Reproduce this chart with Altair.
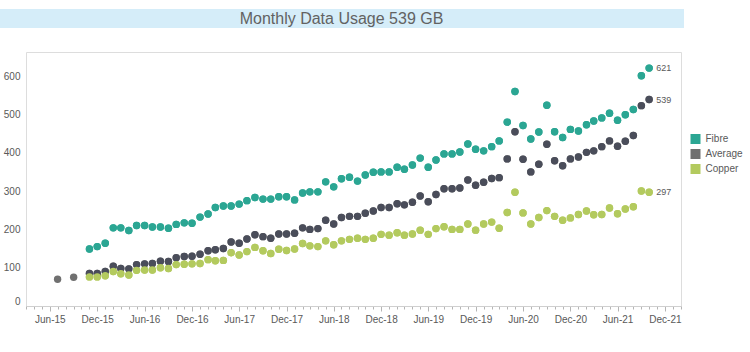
import altair as alt
import pandas as pd

# ---- data -------------------------------------------------------------
months = pd.date_range("2015-11-01", "2021-10-01", freq="MS").strftime("%Y-%m-%d").tolist()

fibre = [149, 155,
         164, 204, 204, 197, 210, 210, 206, 206, 203, 213, 217, 216,
         232, 240, 257, 261, 261, 266, 275, 283, 279, 279, 285, 285,
         277, 295, 298, 298, 324, 311, 332, 336, 326, 342, 349, 350,
         350, 362, 357, 368, 386, 362, 381, 397, 397, 402, 423, 409,
         405, 416, 431, 480, 560, 471, 436, 454, 524, 455, 440, 461,
         457, 473, 483, 491, 503, 485, 499, 513, 601, 621]
average = [85, 85,
           90, 104, 98, 97, 108, 110, 111, 117, 116, 126, 129, 130,
           135, 144, 147, 150, 167, 164, 175, 186, 181, 177, 188, 188,
           190, 204, 200, 202, 224, 214, 231, 234, 234, 242, 248, 257,
           257, 267, 264, 271, 287, 272, 291, 306, 306, 308, 329, 315,
           323, 333, 335, 384, 455, 383, 350, 370, 422, 379, 366, 384,
           389, 401, 405, 416, 431, 417, 430, 445, 523, 539]
copper = [76, 76,
          79, 90, 84, 81, 93, 94, 94, 100, 98, 108, 109, 110,
          111, 121, 118, 119, 139, 133, 142, 153, 144, 137, 148, 145,
          149, 163, 157, 155, 170, 160, 170, 174, 177, 174, 177, 187,
          185, 191, 185, 188, 198, 187, 202, 207, 200, 200, 214, 198,
          214, 219, 203, 244, 297, 243, 214, 231, 249, 234, 224, 230,
          239, 248, 238, 239, 256, 241, 253, 259, 300, 297]
early_months = ["2015-07-01", "2015-09-01"]
early_average = [70, 75]

series_names = ["Fibre", "Average", "Copper"]
legend_colors = ["#2ba693", "#707070", "#b3ca5e"]
point_colors = ["#2ba693", "#4a4d5a", "#b3ca5e"]
title_text = "Monthly Data Usage 539 GB"
y_ticks = [0, 100, 200, 300, 400, 500, 600]

rows = []
for name, vals in zip(series_names, [fibre, average, copper]):
    for m, v in zip(months, vals):
        rows.append({"date": m, "series": name, "value": v, "early": False})
for m, v in zip(early_months, early_average):
    rows.append({"date": m, "series": "Average", "value": v, "early": True})
df = pd.DataFrame(rows)
last = df[df["date"] == months[-1]]

tick_values = [alt.DateTime(year=y, month=mo, date=1, utc=True)
               for y in range(2015, 2023) for mo in range(1, 13)
               if (2015, 3) <= (y, mo) <= (2022, 2)]

FONT = "Liberation Sans"
TXT = "#595959"
major_test = "utcmonth(datum.value) == 5 || utcmonth(datum.value) == 11"

x_enc = alt.X(
    "date:T",
    scale=alt.Scale(type="utc",
                    domain=[alt.DateTime(year=2015, month=3, date=1, utc=True),
                            alt.DateTime(year=2022, month=2, date=1, utc=True)]),
    axis=alt.Axis(values=tick_values, title=None, grid=False,
                  labelExpr=f"({major_test}) ? utcFormat(datum.value, '%b-%y') : ''",
                  tickSize={"condition": {"test": major_test, "value": 5}, "value": 3},
                  tickColor="#b5b5b5", domainColor="#cfcfcf",
                  labelColor=TXT, labelFontSize=10, labelFont=FONT,
                  labelPadding=3, labelFlush=False, labelOverlap=False),
)
y_enc = alt.Y(
    "value:Q",
    scale=alt.Scale(domain=[0, 663], nice=False, zero=True),
    axis=alt.Axis(values=y_ticks, title=None, grid=False, ticks=False, domain=False,
                  labelFlush=True, labelPadding=6, labelColor=TXT,
                  labelFontSize=10, labelFont=FONT),
)

one = alt.Data(values=[{"k": 1}])

band = alt.Chart(one).mark_rect(color="#d5edf9").encode(
    x=alt.value(-26), x2=alt.value(658), y=alt.value(-43), y2=alt.value(-24)
)
title = alt.Chart(one).mark_text(
    fontSize=16, font=FONT, color="#626262", align="center", baseline="middle"
).encode(x=alt.value(315.5), y=alt.value(-33.5), text=alt.value(title_text))

base_pts = alt.Chart(df).mark_circle(size=55, opacity=1).encode(
    x=x_enc, y=y_enc,
    color=alt.Color("series:N",
                    scale=alt.Scale(domain=series_names, range=legend_colors),
                    legend=alt.Legend(orient="none", legendX=664.5, legendY=82,
                                      title=None, symbolType="square", symbolSize=100,
                                      symbolStrokeWidth=0, symbolOpacity=1,
                                      labelFontSize=10, labelFont=FONT, labelColor=TXT,
                                      labelOffset=5, rowPadding=5, padding=0)),
)
top_pts = alt.Chart(df[~df["early"]]).mark_circle(size=55, opacity=1).encode(
    x=x_enc, y=y_enc,
    color=alt.Color("series:N",
                    scale=alt.Scale(domain=series_names, range=point_colors),
                    legend=None),
)
end_labels = alt.Chart(last).mark_text(
    align="left", baseline="middle", dx=7, fontSize=9, font=FONT, color=TXT
).encode(x=x_enc, y=y_enc, text=alt.Text("value:Q"))

chart = alt.layer(band, title, base_pts, top_pts, end_labels).resolve_scale(
    color="independent"
).properties(
    width=655, height=254,
    autosize=alt.AutoSizeParams(type="none"),
    padding={"left": 26, "top": 52, "right": 69, "bottom": 46},
).configure_view(stroke="#d9d9d9", strokeWidth=1).configure(background="white")

chart.save("out.html", embed_options={"renderer": "svg", "actions": False})
